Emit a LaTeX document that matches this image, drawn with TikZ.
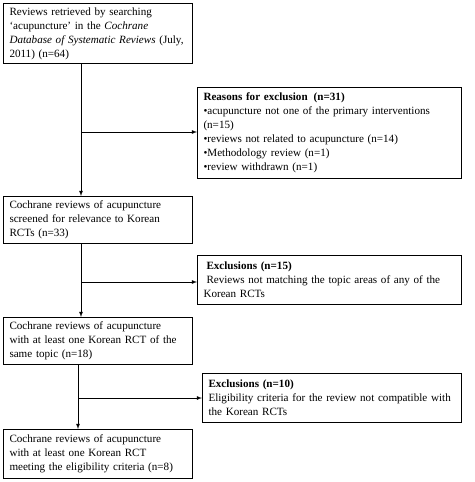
\documentclass[tikz,border=0pt]{standalone}
\usepackage{fontspec}
\setmainfont{Liberation Serif}
\usepackage{tikz}

\begin{document}
\begin{tikzpicture}[x=1pt, y=-1pt,
    box/.style={draw, line width=1pt, anchor=north west, align=left,
      inner xsep=6pt, inner ysep=0pt, font=\fontsize{11.1}{14}\selectfont},
    arr/.style={line width=0.8pt, -latex}]
        \useasboundingbox (0,0) rectangle (474,482);
        \node[box, minimum width=189, minimum height=60, text width=177] (b1) at (3,3)
          {Reviews retrieved by searching\\`acupuncture' in the \textit{Cochrane}\\\textit{Database of Systematic Reviews} (July,\\2011) (n=64)};
        \node[box, minimum width=264, minimum height=91, text width=252] (e1) at (197,87)
          {\textbf{Reasons for exclusion\hspace{6pt}(n=31)}\\•acupuncture not one of the primary  interventions\\(n=15)\\•reviews not related to acupuncture (n=14)\\•Methodology review (n=1)\\•review withdrawn (n=1)};
        \node[box, minimum width=189, minimum height=47, text width=177] (b2) at (3,196)
          {Cochrane reviews of acupuncture\\screened for relevance to Korean\\RCTs (n=33)};
        \node[box, minimum width=264, minimum height=49, text width=252] (e2) at (197,255)
          {\hspace{3pt}\textbf{Exclusions (n=15)}\\\hspace{3pt}Reviews not matching the topic areas of any of the\\Korean RCTs};
        \node[box, minimum width=259, minimum height=49, text width=247] (e3) at (202,373)
          {\textbf{Exclusions (n=10)}\\Eligibility criteria for the review not compatible with\\the Korean RCTs};
        \node[box, minimum width=189, minimum height=47, text width=177] (b3) at (3,317)
          {Cochrane reviews of acupuncture\\with at least one Korean RCT of the\\same topic (n=18)};
        \node[box, minimum width=189, minimum height=49, text width=177] (b4) at (3,429)
          {Cochrane reviews of acupuncture\\with at least one Korean RCT\\meeting the eligibility  criteria (n=8)};
        % connectors
        \coordinate (t1) at (81,132);
        \coordinate (t2) at (81,282);
        \coordinate (t3) at (78,398);
        \draw[arr] (b1.south -| t1) -- (b2.north -| t1);
        \draw[arr] (t1) -- (e1.west |- t1);
        \draw[arr] (b2.south -| t2) -- (b3.north -| t2);
        \draw[arr] (t2) -- (e2.west |- t2);
        \draw[arr] (b3.south -| t3) -- (b4.north -| t3);
        \draw[arr] (t3) -- (e3.west |- t3);
      \end{tikzpicture}
\end{document}
